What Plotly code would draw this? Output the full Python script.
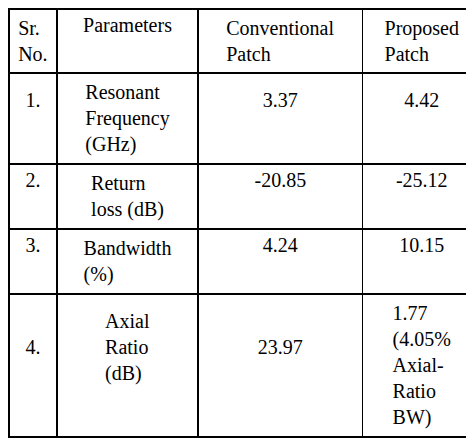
import plotly.graph_objects as go

header = ["Sr.<br>No.", "Parameters", "Conventional<br>Patch", "Proposed<br>Patch"]
sr_no = ["<br>1.", "2.", "3.", "<br><br>4."]
parameters = ["Resonant<br>Frequency<br>(GHz)", "Return<br>loss (dB)", "Bandwidth<br>(%)",
              "<br>Axial<br>Ratio<br>(dB)"]
conventional = ["<br>3.37", "-20.85", "4.24", "<br><br>23.97"]
proposed = ["<br>4.42", "-25.12", "10.15", "1.77<br>(4.05%<br>Axial-<br>Ratio<br>BW)"]

font = dict(family="Liberation Serif, Times New Roman, DejaVu Serif, serif", size=20, color="black")

fig = go.Figure(go.Table(
    columnwidth=[48, 142, 165, 119],
    header=dict(values=header, align="center", font=font,
                line=dict(color="black", width=1.5), fill=dict(color="white"), height=28),
    cells=dict(values=[sr_no, parameters, conventional, proposed], align="center", font=font,
               line=dict(color="black", width=1.5), fill=dict(color="white"), height=28),
))
fig.update_layout(width=474, height=440, margin=dict(l=1, r=1, t=1, b=0),
                  paper_bgcolor="white")
fig.write_html("out.html")
